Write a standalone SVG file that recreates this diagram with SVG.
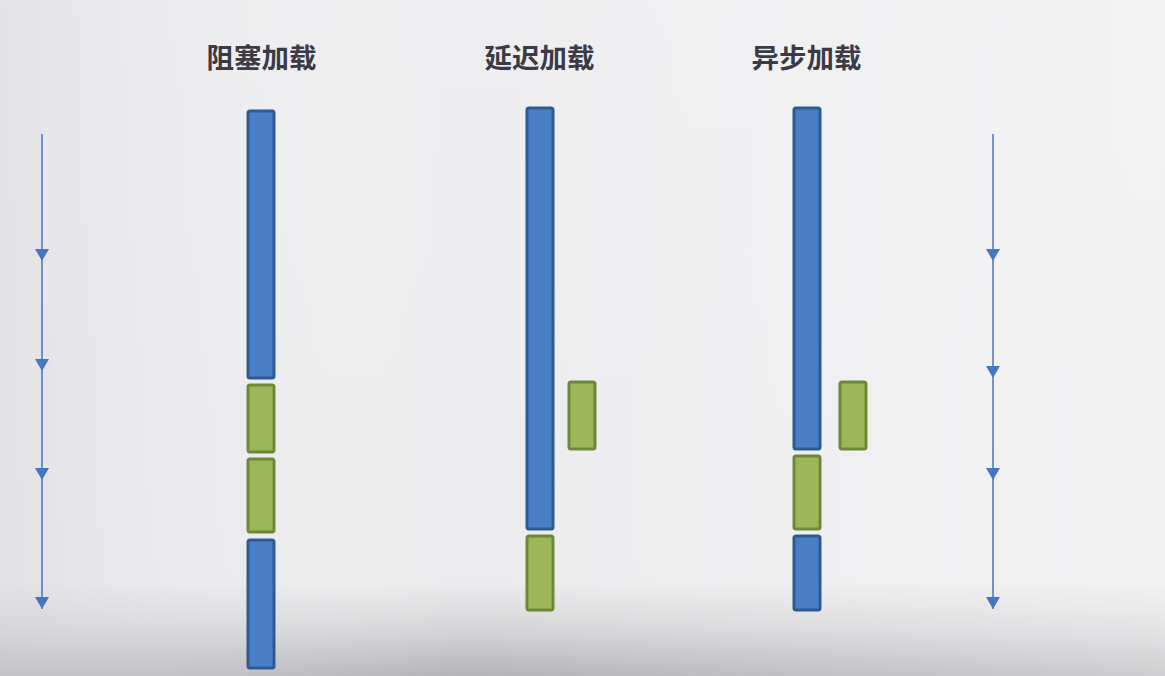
<svg xmlns="http://www.w3.org/2000/svg" width="1165" height="676" viewBox="0 0 1165 676">
<defs>
<linearGradient id="bgv" x1="0" y1="0" x2="0" y2="1">
<stop offset="0" stop-color="#eeeef0"/>
<stop offset="0.86" stop-color="#ececee"/>
<stop offset="0.93" stop-color="#d6d6d9"/>
<stop offset="1" stop-color="#b4b4b8"/>
</linearGradient>
<linearGradient id="bgh" x1="0" y1="0" x2="1" y2="0">
<stop offset="0" stop-color="#d8d8dc" stop-opacity="0.45"/>
<stop offset="0.4" stop-color="#ffffff" stop-opacity="0"/>
<stop offset="1" stop-color="#ffffff" stop-opacity="0.35"/>
</linearGradient>
<marker id="tri" viewBox="0 0 12 14" refX="12" refY="7" markerWidth="12" markerHeight="14" markerUnits="userSpaceOnUse" orient="auto">
<path d="M0,0 L12,7 L0,14 Z" fill="#4576c0"/>
</marker>
<style>
.title{font-family:"Noto Sans CJK SC","Noto Sans",sans-serif;font-weight:700;font-size:27.5px;fill:#3b3b45;text-anchor:middle}
.blue{fill:#4a7fc5;stroke:#2e5a92;stroke-width:3}
.green{fill:#9bb759;stroke:#6d8938;stroke-width:3}
.ln{stroke:#4576c0;stroke-width:1.5;fill:none}
</style>
</defs>
<rect width="1165" height="676" fill="url(#bgv)"/>
<rect width="1165" height="676" fill="url(#bgh)"/>
<text class="title" x="261.5" y="68">阻塞加载</text>
<text class="title" x="539.5" y="68">延迟加载</text>
<text class="title" x="806.5" y="68">异步加载</text>
<g id="col-blocking">
<rect class="blue" x="248" y="111" width="26" height="267" rx="2"/>
<rect class="green" x="248" y="385" width="26" height="67" rx="2"/>
<rect class="green" x="248" y="459" width="26" height="73" rx="2"/>
<rect class="blue" x="248" y="540" width="26" height="128" rx="2"/>
</g>
<g id="col-defer">
<rect class="blue" x="527" y="108" width="26" height="421" rx="2"/>
<rect class="green" x="569" y="382" width="26" height="67" rx="2"/>
<rect class="green" x="527" y="536" width="26" height="74" rx="2"/>
</g>
<g id="col-async">
<rect class="blue" x="794" y="108" width="26" height="341" rx="2"/>
<rect class="green" x="840" y="382" width="26" height="67" rx="2"/>
<rect class="green" x="794" y="456" width="26" height="73" rx="2"/>
<rect class="blue" x="794" y="536" width="26" height="74" rx="2"/>
</g>
<g id="connectors">
<path class="ln" d="M42,134 V261" marker-end="url(#tri)"/>
<path class="ln" d="M42,261 V371" marker-end="url(#tri)"/>
<path class="ln" d="M42,371 V480" marker-end="url(#tri)"/>
<path class="ln" d="M42,480 V609" marker-end="url(#tri)"/>
<path class="ln" d="M993,134 V261" marker-end="url(#tri)"/>
<path class="ln" d="M993,261 V378" marker-end="url(#tri)"/>
<path class="ln" d="M993,378 V480" marker-end="url(#tri)"/>
<path class="ln" d="M993,480 V609" marker-end="url(#tri)"/>
</g>
</svg>
